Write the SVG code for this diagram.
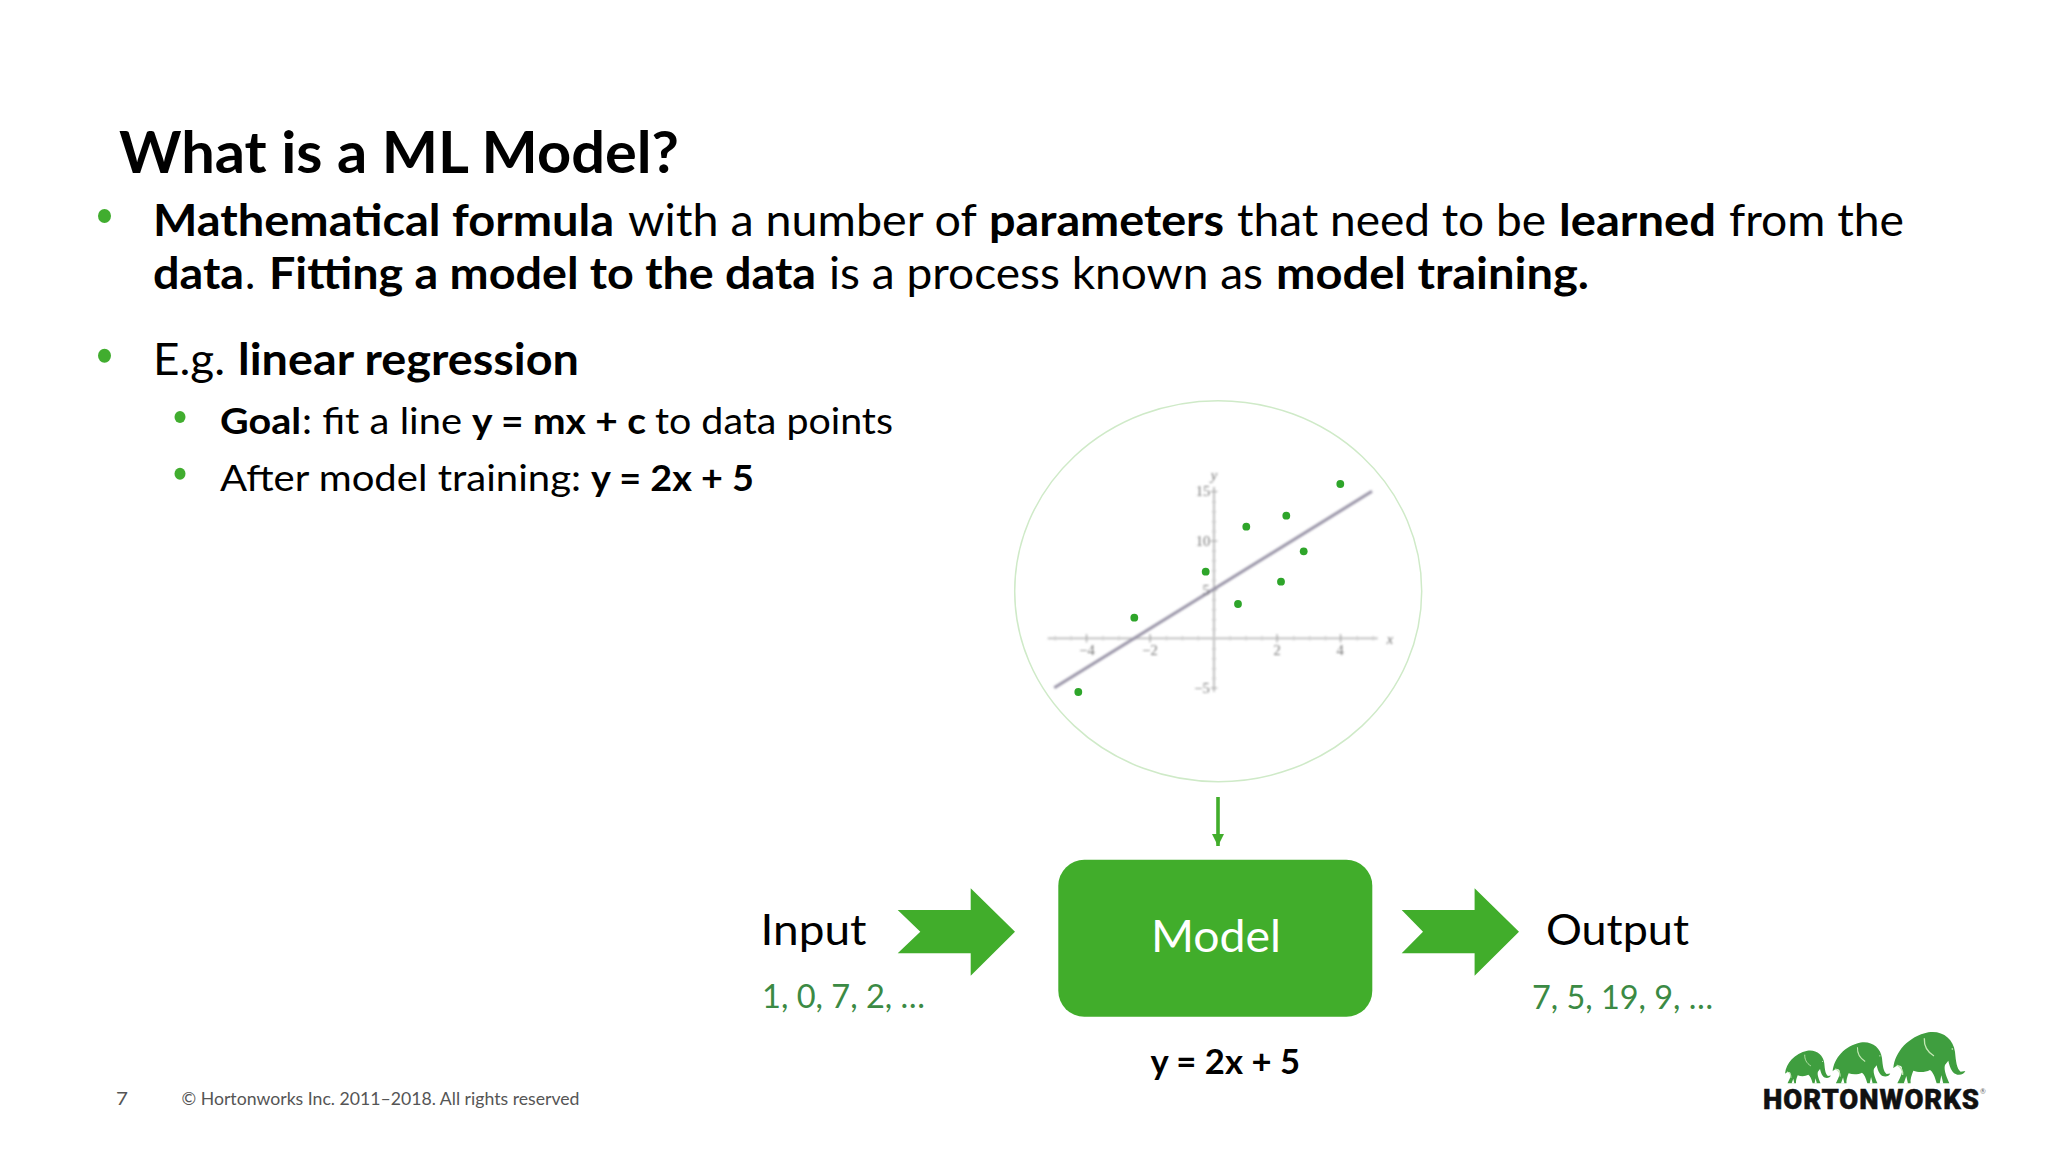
<svg xmlns="http://www.w3.org/2000/svg" width="2048" height="1152" viewBox="0 0 2048 1152">
<style>
text{font-family:"Lato","Carlito","Noto Sans",sans-serif;fill:#000}
.b{font-weight:700}
.t{font-size:58px;font-weight:700}
.l1{font-size:43.5px}
.l2{font-size:37px}
.bul{fill:#41ad2f}
.blk{fill:#41ad2b}
.num{font-size:33px;fill:#3b8a44}
.big{font-size:43px}
.ft{font-size:17.5px;fill:#555}
.tick{font-family:"Liberation Serif",serif;font-size:14.5px;fill:#777}
.dot{fill:#2ea52a}
.ele{fill:#3f9e3f}
.hl{fill:none;stroke:#c4e8b4;stroke-width:4}
</style>
<defs>
<marker id="ah" markerUnits="userSpaceOnUse" markerWidth="12" markerHeight="12" refX="12" refY="6" orient="auto"><path d="M0 0L12 6L0 12Z" class="blk"/></marker>
<filter id="soft" x="-5%" y="-5%" width="110%" height="110%"><feGaussianBlur stdDeviation="0.85"/></filter>
<g id="eleph">
<path class="ele" d="M460 145C465 95 505 50 565 37C605 30 640 55 645 95C648 125 650 145 662 155L676 153C672 165 650 170 638 155C630 145 627 130 625 122L615 135C610 150 622 175 628 190L590 190C585 170 578 155 570 150C555 158 535 158 520 152C515 165 510 178 512 190L472 190C482 170 490 155 485 140C478 135 470 135 460 145Z"/>
<path class="hl" d="M553 55C552 75 560 95 582 108M470 135C480 140 490 148 488 165"/>
<path d="M491 191L499 168L504 191ZM599 191L604 166L610 191Z" fill="#fff"/>
<circle cx="637" cy="87" r="2.5" fill="#d8f0cc"/>
</g>
</defs>
<rect width="2048" height="1152" fill="#fff"/>

<g id="title"><text class="t" x="119" y="172.7" textLength="560" lengthAdjust="spacingAndGlyphs">What is a ML Model?</text></g>

<g id="bullets">
<ellipse class="bul" cx="104.5" cy="216" rx="6.5" ry="7"/>
<text class="l1" y="235.8"><tspan class="b" x="153" textLength="461" lengthAdjust="spacingAndGlyphs">Mathematical formula</tspan> <tspan x="628" textLength="348" lengthAdjust="spacingAndGlyphs">with a number of</tspan> <tspan class="b" x="989" textLength="235" lengthAdjust="spacingAndGlyphs">parameters</tspan> <tspan x="1237" textLength="309" lengthAdjust="spacingAndGlyphs">that need to be</tspan> <tspan class="b" x="1559" textLength="157" lengthAdjust="spacingAndGlyphs">learned</tspan> <tspan x="1729" textLength="175" lengthAdjust="spacingAndGlyphs">from the</tspan></text>
<text class="l1" y="288.8"><tspan class="b" x="153" textLength="91" lengthAdjust="spacingAndGlyphs">data</tspan><tspan x="245">.</tspan> <tspan class="b" x="269" textLength="547" lengthAdjust="spacingAndGlyphs">Fitting a model to the data</tspan> <tspan x="829" textLength="434" lengthAdjust="spacingAndGlyphs">is a process known as</tspan> <tspan class="b" x="1276" textLength="313" lengthAdjust="spacingAndGlyphs">model training.</tspan></text>
<ellipse class="bul" cx="104.5" cy="355.7" rx="6.5" ry="7"/>
<text class="l1" y="375"><tspan x="153" textLength="72" lengthAdjust="spacingAndGlyphs">E.g.</tspan> <tspan class="b" x="238" textLength="341" lengthAdjust="spacingAndGlyphs">linear regression</tspan></text>
<ellipse class="bul" cx="180" cy="417" rx="5.5" ry="6"/>
<text class="l2" y="433.5"><tspan class="b" x="220" textLength="81" lengthAdjust="spacingAndGlyphs">Goal</tspan><tspan x="302" textLength="160" lengthAdjust="spacingAndGlyphs">: fit a line</tspan> <tspan class="b" x="472" textLength="174" lengthAdjust="spacingAndGlyphs">y = mx + c</tspan> <tspan x="655" textLength="238" lengthAdjust="spacingAndGlyphs">to data points</tspan></text>
<ellipse class="bul" cx="180" cy="473.7" rx="5.5" ry="6"/>
<text class="l2" y="490.5"><tspan x="220" textLength="361" lengthAdjust="spacingAndGlyphs">After model training:</tspan> <tspan class="b" x="591" textLength="163" lengthAdjust="spacingAndGlyphs">y = 2x + 5</tspan></text>
</g>

<g id="chart">
<ellipse cx="1218.2" cy="591.2" rx="203.5" ry="190.5" fill="#fff" stroke="#cfeac8" stroke-width="1.5"/>
<g filter="url(#soft)">
<path d="M1047.7 638.3H1377.7M1214 487V691.7" fill="none" stroke="#bbb" stroke-width="1.8"/>
<path d="M1054.5 638.3H1377.7" fill="none" stroke="#ccc" stroke-width="4" stroke-dasharray="1.5 14.4"/>
<path d="M1214 491.5V691.7" fill="none" stroke="#ccc" stroke-width="4" stroke-dasharray="1.5 8.3"/>
<path d="M1086.5 634V642.5M1150 634V642.5M1277 634V642.5M1340.5 634V642.5M1210.5 491.5H1217.5M1210.5 541H1217.5M1210.5 590H1217.5M1210.5 688H1217.5" stroke="#aaa" stroke-width="1.2" fill="none"/>
<line x1="1054.3" y1="687.7" x2="1372" y2="491.3" stroke="#9a95a8" stroke-width="3"/>
<text class="tick" x="1087" y="655" text-anchor="middle">−4</text>
<text class="tick" x="1150" y="655" text-anchor="middle">−2</text>
<text class="tick" x="1277" y="655" text-anchor="middle">2</text>
<text class="tick" x="1340" y="655" text-anchor="middle">4</text>
<text class="tick" x="1203" y="496" text-anchor="middle">15</text>
<text class="tick" x="1203" y="546" text-anchor="middle">10</text>
<text class="tick" x="1206" y="595" text-anchor="middle">5</text>
<text class="tick" x="1202" y="693" text-anchor="middle">−5</text>
<text class="tick" x="1214" y="480" text-anchor="middle" font-style="italic">y</text>
<text class="tick" x="1390" y="644" text-anchor="middle" font-style="italic">x</text>
</g>
<circle class="dot" cx="1078.3" cy="692" r="3.9"/>
<circle class="dot" cx="1134.3" cy="617.7" r="3.9"/>
<circle class="dot" cx="1205.7" cy="571.7" r="3.9"/>
<circle class="dot" cx="1238" cy="604" r="3.9"/>
<circle class="dot" cx="1246.3" cy="526.7" r="3.9"/>
<circle class="dot" cx="1281" cy="581.7" r="3.9"/>
<circle class="dot" cx="1286.3" cy="515.7" r="3.9"/>
<circle class="dot" cx="1303.7" cy="551.3" r="3.9"/>
<circle class="dot" cx="1340.3" cy="484" r="3.9"/>
</g>

<g id="connectors">
<line x1="1218" y1="797" x2="1218" y2="846" stroke="#41ad2b" stroke-width="3.6" marker-end="url(#ah)"/>
<polygon class="blk" points="897.7,910 970.7,910 970.7,888.3 1015,931.7 970.7,975.7 970.7,953.3 897.7,953.3 920.3,931.7"/>
<polygon class="blk" points="1401.7,910 1474.6,910 1474.6,888.3 1519,931.7 1474.6,975.7 1474.6,953.3 1401.7,953.3 1423,931.7"/>
</g>

<g id="input">
<text class="big" x="760.5" y="944.5" textLength="106" lengthAdjust="spacingAndGlyphs">Input</text>
<text class="num" x="762" y="1008" textLength="163" lengthAdjust="spacingAndGlyphs">1, 0, 7, 2, …</text>
</g>

<g id="model">
<rect class="blk" x="1058.3" y="859.8" width="314" height="157" rx="26" ry="26"/>
<text x="1151" y="951.5" font-size="45" style="fill:#fff" textLength="130" lengthAdjust="spacingAndGlyphs">Model</text>
<text class="b" x="1150.5" y="1073.5" font-size="34" textLength="149.5" lengthAdjust="spacingAndGlyphs">y = 2x + 5</text>
</g>

<g id="output">
<text class="big" x="1546" y="944.5" textLength="143" lengthAdjust="spacingAndGlyphs">Output</text>
<text class="num" x="1532" y="1009" textLength="181" lengthAdjust="spacingAndGlyphs">7, 5, 19, 9, …</text>
</g>

<g id="footer">
<text class="ft" x="116" y="1105" textLength="12" lengthAdjust="spacingAndGlyphs">7</text>
<text class="ft" x="181.5" y="1105" textLength="398" lengthAdjust="spacingAndGlyphs">© Hortonworks Inc. 2011–2018. All rights reserved</text>
</g>

<g id="logo">
<g transform="translate(1740 1020) scale(.3333)">
<use href="#eleph" transform="translate(-158 69) scale(.637)"/>
<use href="#eleph" transform="translate(-90 38) scale(.8)"/>
<use href="#eleph"/>
</g>
<text x="1763" y="1108.7" style="font-family:'Roboto','Liberation Sans',sans-serif;font-weight:900;fill:#111;stroke:#111;stroke-width:.5" font-size="27.5" textLength="216" lengthAdjust="spacing">HORTONWORKS</text>
<text x="1980" y="1094" font-size="7" style="fill:#666">®</text>
</g>
</svg>
